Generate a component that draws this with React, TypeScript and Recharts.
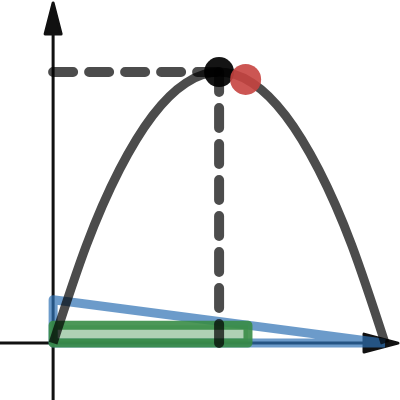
import { ComposedChart, Line, XAxis, YAxis, ReferenceLine, ReferenceArea, ReferenceDot } from 'recharts'

// graph window (data units) – origin sits at the axes crossing
const xDomain = [-0.16, 1.045]
const yDomain = [-0.21, 1.266]

// parabola
const curveX = [0, 0.1, 0.2, 0.3, 0.4, 0.5, 0.6, 0.7, 0.8, 0.9, 1]
const curveY = [0, 0.36, 0.64, 0.84, 0.96, 1, 0.96, 0.84, 0.64, 0.36, 0]

// blue triangle (closed)
const triX = [1, 0, 0, 1]
const triY = [0, 0, 0.16, 0]

// green rectangle corners
const rectX = [0, 0.587]
const rectY = [0, 0.066]

// points
const peak = { x: 0.5, y: 1 }
const redPoint = { x: 0.58, y: 0.973 }

// arrow tips of the axes
const yTip = 1.255
const xTip = 1.039

const curveData = curveX.map((x, i) => ({ x, y: curveY[i] }))
const triData = triX.map((x, i) => ({ x, y: triY[i] }))

const AXIS = '#111'

const UpArrow = (p: any) => (
  <path
    d={`M${p.cx},${p.cy} L${p.cx - 8},${p.cy + 31} L${p.cx + 8},${p.cy + 31} Z`}
    fill={AXIS}
    stroke={AXIS}
    strokeWidth={3}
    strokeLinejoin="round"
  />
)

const RightArrow = (p: any) => (
  <path
    d={`M${p.cx},${p.cy} L${p.cx - 34},${p.cy - 9} L${p.cx - 34},${p.cy + 9} Z`}
    fill={AXIS}
    stroke={AXIS}
    strokeWidth={3}
    strokeLinejoin="round"
  />
)

export default function App() {
  return (
    <div style={{ position: 'absolute', left: 0, top: 0, background: '#fff' }}>
      <ComposedChart width={400} height={400} margin={{ top: 0, right: 0, bottom: 0, left: 0 }}>
        <XAxis type="number" dataKey="x" domain={xDomain} hide allowDataOverflow />
        <YAxis type="number" dataKey="y" domain={yDomain} hide allowDataOverflow />

        {/* axes */}
        <ReferenceLine
          ifOverflow="visible"
          segment={[{ x: 0, y: yDomain[0] }, { x: 0, y: yTip - 0.05 }]}
          stroke={AXIS}
          strokeWidth={3}
          zIndex={50}
        />
        <ReferenceLine
          ifOverflow="visible"
          segment={[{ x: xDomain[0], y: 0 }, { x: xTip - 0.05, y: 0 }]}
          stroke={AXIS}
          strokeWidth={3}
          zIndex={50}
        />
        <ReferenceDot x={0} y={yTip} ifOverflow="visible" shape={UpArrow} zIndex={50} />
        <ReferenceDot x={xTip} y={0} ifOverflow="visible" shape={RightArrow} zIndex={50} />

        <Line
          data={triData}
          dataKey="y"
          type="linear"
          stroke="#2d70b3"
          strokeOpacity={0.7}
          strokeWidth={9}
          strokeLinejoin="round"
          dot={false}
          activeDot={false}
          isAnimationActive={false}
          zIndex={300}
        />

        <ReferenceArea
          x1={rectX[0]}
          x2={rectX[1]}
          y1={rectY[0]}
          y2={rectY[1]}
          fill="#388c46"
          fillOpacity={0.4}
          stroke="#388c46"
          strokeOpacity={0.9}
          strokeWidth={9}
          strokeLinejoin="round"
          ifOverflow="visible"
          zIndex={350}
        />

        <Line
          data={curveData}
          dataKey="y"
          type="natural"
          stroke="#000"
          strokeOpacity={0.7}
          strokeWidth={9}
          dot={false}
          activeDot={false}
          isAnimationActive={false}
          zIndex={400}
        />

        {/* dashed guides to the peak */}
        <ReferenceLine
          ifOverflow="visible"
          segment={[{ x: 0, y: peak.y }, { x: peak.x, y: peak.y }]}
          stroke="#000"
          strokeOpacity={0.7}
          strokeWidth={10}
          strokeDasharray="20 16"
          strokeLinecap="round"
          zIndex={450}
        />
        <ReferenceLine
          ifOverflow="visible"
          segment={[{ x: peak.x, y: peak.y }, { x: peak.x, y: 0 }]}
          stroke="#000"
          strokeOpacity={0.7}
          strokeWidth={10}
          strokeDasharray="20 16"
          strokeLinecap="round"
          zIndex={450}
        />

        <ReferenceDot x={peak.x} y={peak.y} r={15} fill="#000" fillOpacity={0.92} stroke="none" ifOverflow="visible" zIndex={600} />
        <ReferenceDot x={redPoint.x} y={redPoint.y} r={15.5} fill="#c74440" fillOpacity={0.9} stroke="none" ifOverflow="visible" zIndex={600} />
      </ComposedChart>
    </div>
  )
}
